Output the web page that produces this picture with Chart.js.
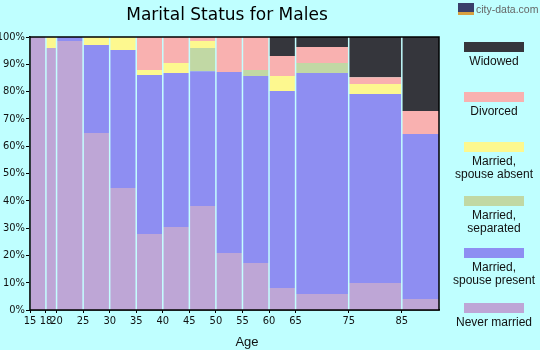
<!DOCTYPE html>
<html>
<head>
<meta charset="utf-8">
<script src="https://cdn.jsdelivr.net/npm/chart.js@4"></script>
<style>
  body { margin: 0; background: #bfffff; }
  #wrap { position: relative; width: 540px; height: 350px; background: #bfffff; font-family: "Liberation Sans", Arial, sans-serif; }
  #title { position: absolute; left: 0; width: 454px; top: 4px; text-align: center; font-family: "DejaVu Sans", Verdana, sans-serif; font-size: 17px; color: #000; }
  #age { position: absolute; left: 224px; width: 46px; top: 334px; text-align: center; font-size: 13px; color: #111; }
  #brand { position: absolute; left: 458px; top: 3px; font-size: 10.5px; color: #666; }
  #brand .ico { display: inline-block; width: 16px; height: 12px; vertical-align: -2px; margin-right: 2px;
    background: linear-gradient(to top, #d8a040 0 3px, #3a3f6a 3px); }
  .lg { position: absolute; left: 448px; width: 92px; text-align: center; font-size: 12px; line-height: 12.5px; color: #111; }
  .lg .box { width: 60px; height: 10px; margin: 0 auto 3px auto; }
</style>
</head>
<body>
<div id="wrap">
  <canvas id="myChart" width="540" height="350"></canvas>
  <div id="title">Marital Status for Males</div>
  <div id="age">Age</div>
  <div id="brand"><span class="ico"></span>city-data.com</div>
  <div id="legend"></div>
</div>
<script>
// age group start points, last group runs to ageEnd
const ageStarts = [15, 18, 20, 25, 30, 35, 40, 45, 50, 55, 60, 65, 75, 85]
const ageEnd = 92
const tickAges = [15, 18, 20, 25, 30, 35, 40, 45, 50, 55, 60, 65, 75, 85]

// percent of males in each group
const neverMarried  = [100, 96, 98.5, 64.8, 44.7, 27.8, 30.4, 38.1, 20.9, 17.2, 8.1, 5.9, 9.9, 4.0]
const spousePresent = [0, 0, 1.5, 32.3, 50.5, 58.3, 56.4, 49.4, 66.3, 68.5, 72.1, 80.9, 69.2, 60.5]
const separated     = [0, 0, 0, 0, 0, 0, 0, 8.5, 0, 2.2, 0, 3.7, 0, 0]
const spouseAbsent  = [0, 4, 0, 2.9, 4.8, 1.8, 3.7, 2.5, 0, 0, 5.5, 0, 3.7, 0]
const divorced      = [0, 0, 0, 0, 0, 12.1, 9.5, 1.5, 12.8, 12.1, 7.3, 5.8, 2.5, 8.4]
const widowed       = [0, 0, 0, 0, 0, 0, 0, 0, 0, 0, 7.0, 3.7, 14.7, 27.1]

const series = [
    { label: 'Never married', data: neverMarried, color: '#bea6d6' },
    { label: 'Married, spouse present', data: spousePresent, color: '#8e8ef2' },
    { label: 'Married, separated', data: separated, color: '#c1d8a4' },
    { label: 'Married, spouse absent', data: spouseAbsent, color: '#fdf88f' },
    { label: 'Divorced', data: divorced, color: '#f9b1b0' },
    { label: 'Widowed', data: widowed, color: '#35363c' }
]

// running totals -> stepped lines filled to the one below
let running = ageStarts.map(() => 0)
const datasets = series.map((s, i) => {
    running = running.map((v, k) => v + s.data[k])
    const pts = ageStarts.map((a, k) => ({ x: a, y: running[k] }))
    pts.push({ x: ageEnd, y: running[running.length - 1] })
    return {
        label: s.label,
        data: pts,
        stepped: true,
        borderWidth: 0,
        pointRadius: 0,
        backgroundColor: s.color,
        borderColor: s.color,
        fill: i === 0 ? 'origin' : '-1'
    }
})

// cyan separators over the bars, then the black box
const frame = {
    id: 'frame',
    afterDraw(chart) {
        const { ctx, chartArea: a } = chart
        const xs = chart.scales.x
        ctx.save()
        ctx.strokeStyle = '#c4ffff'
        ctx.lineWidth = 1.5
        tickAges.forEach(v => {
            const px = xs.getPixelForValue(v)
            ctx.beginPath()
            ctx.moveTo(px, a.top)
            ctx.lineTo(px, a.bottom)
            ctx.stroke()
        })
        ctx.strokeStyle = '#000'
        ctx.strokeRect(a.left, a.top, a.right - a.left, a.bottom - a.top)
        ctx.restore()
    }
}

const tickFont = { family: '"Liberation Sans Narrow", "DejaVu Sans Condensed", sans-serif', size: 11 }

new Chart(document.getElementById('myChart'), {
    type: 'line',
    data: { datasets: datasets },
    options: {
        responsive: false,
        animation: false,
        devicePixelRatio: 1,
        layout: { padding: { top: 37, right: 101, left: 0, bottom: 0 } },
        plugins: { legend: { display: false }, tooltip: { enabled: false } },
        scales: {
            x: {
                type: 'linear',
                min: 15,
                max: ageEnd,
                afterBuildTicks: (scale) => { scale.ticks = tickAges.map(v => ({ value: v })) },
                afterFit: (scale) => { scale.height = 40 },
                grid: { drawOnChartArea: false, tickColor: '#000', tickLength: 3, tickWidth: 1 },
                border: { color: '#000', width: 1.5 },
                ticks: { autoSkip: false, maxRotation: 0, padding: 2, color: '#111', font: tickFont, callback: v => v }
            },
            y: {
                min: 0,
                max: 100,
                afterFit: (scale) => { scale.width = 30 },
                grid: { drawOnChartArea: false, tickColor: '#000', tickLength: 4 },
                border: { color: '#000', width: 1.5 },
                ticks: { stepSize: 10, padding: 1, color: '#111', font: tickFont, callback: v => v + '%' }
            }
        }
    },
    plugins: [frame]
})

// legend on the right, top entry is the top of the stack
const legendTops = [42, 92, 142, 196, 248, 303]
const legendEl = document.getElementById('legend')
series.slice().reverse().forEach((s, i) => {
    const d = document.createElement('div')
    d.className = 'lg'
    d.style.top = legendTops[i] + 'px'
    const name = s.label.replace(', ', ',<br>')
    d.innerHTML = '<div class="box" style="background:' + s.color + '"></div>' + name
    legendEl.appendChild(d)
})
</script>
</body>
</html>
